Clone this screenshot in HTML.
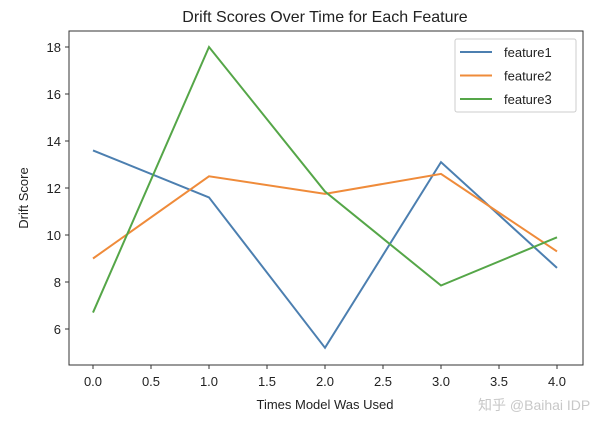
<!DOCTYPE html>
<html><head><meta charset="utf-8"><style>
body{margin:0;background:#fff;width:600px;height:431px;overflow:hidden}
svg text{font-family:"Liberation Sans","DejaVu Sans",sans-serif;fill:#222}
</style></head><body>
<svg id="c" width="600" height="431">
<text x="325" y="22" font-size="16" text-anchor="middle">Drift Scores Over Time for Each Feature</text>
<rect x="69" y="31" width="514" height="334" fill="none" stroke="#333" stroke-width="1"/>
<g id="ticks"></g><g id="lines"></g>
<text x="325" y="409" font-size="13" text-anchor="middle">Times Model Was Used</text>
<text transform="translate(28,198) rotate(-90)" font-size="13" text-anchor="middle">Drift Score</text>
<g>
<rect x="455" y="39" width="121" height="73" fill="#fff" stroke="#ccc" rx="2"/>
</g>
<g id="leg"></g>
<text x="478" y="410" font-size="14" style="fill:#c8c8c8" font-family="Liberation Sans, Noto Sans CJK SC, sans-serif">知乎 @Baihai IDP</text>
</svg>
<script>
const xs=[0,1,2,3,4];
const feature1=[13.6,11.6,5.2,13.1,8.6];
const feature2=[9.0,12.5,11.75,12.6,9.3];
const feature3=[6.7,18.0,11.85,7.85,9.9];
const seriesNames=["feature1","feature2","feature3"];
const xTicks=[0,0.5,1,1.5,2,2.5,3,3.5,4];
const yTicks=[6,8,10,12,14,16,18];
const colors=["#4c7fb0","#ef8b3a","#55a648"];
const X=v=>93+v*116, Y=v=>329-(v-6)*23.5;
const NS="http://www.w3.org/2000/svg";
const tk=document.getElementById('ticks');
xTicks.forEach(t=>{
 const l=document.createElementNS(NS,'line');l.setAttribute('x1',X(t));l.setAttribute('x2',X(t));l.setAttribute('y1',365);l.setAttribute('y2',369);l.setAttribute('stroke','#333');
 
 
 tk.appendChild(l);
 const s=document.createElementNS(NS,'text');s.setAttribute('x',X(t));s.setAttribute('y',386);s.setAttribute('font-size','13');s.setAttribute('text-anchor','middle');s.textContent=t.toFixed(1);
 
 
 tk.appendChild(s);
});
yTicks.forEach(t=>{
 const l=document.createElementNS(NS,'line');l.setAttribute('x1',65);l.setAttribute('x2',69);l.setAttribute('y1',Y(t));l.setAttribute('y2',Y(t));l.setAttribute('stroke','#333');
 
 
 tk.appendChild(l);
 const s=document.createElementNS(NS,'text');s.setAttribute('x',61);s.setAttribute('y',Y(t)+5);s.setAttribute('font-size','13');s.setAttribute('text-anchor','end');s.textContent=t;
 
 
 tk.appendChild(s);
});
const ln=document.getElementById('lines');
[feature1,feature2,feature3].forEach((d,i)=>{
 const p=document.createElementNS(NS,'polyline');
 p.setAttribute('points',d.map((v,j)=>X(xs[j])+','+Y(v)).join(' '));
 p.setAttribute('fill','none');p.setAttribute('stroke',colors[i]);p.setAttribute('stroke-width','2');
 
 
 ln.appendChild(p);
});
const lg=document.getElementById('leg');
seriesNames.forEach((n,i)=>{
 const y=52+i*23.5;
 const l=document.createElementNS(NS,'line');l.setAttribute('x1',460);l.setAttribute('x2',492);l.setAttribute('y1',y);l.setAttribute('y2',y);l.setAttribute('stroke',colors[i]);l.setAttribute('stroke-width','2');
 
 
 lg.appendChild(l);
 const s=document.createElementNS(NS,'text');s.setAttribute('x',504);s.setAttribute('y',y+5);s.setAttribute('font-size','13');s.textContent=n;
 
 
 lg.appendChild(s);
});
</script>
</body></html>
